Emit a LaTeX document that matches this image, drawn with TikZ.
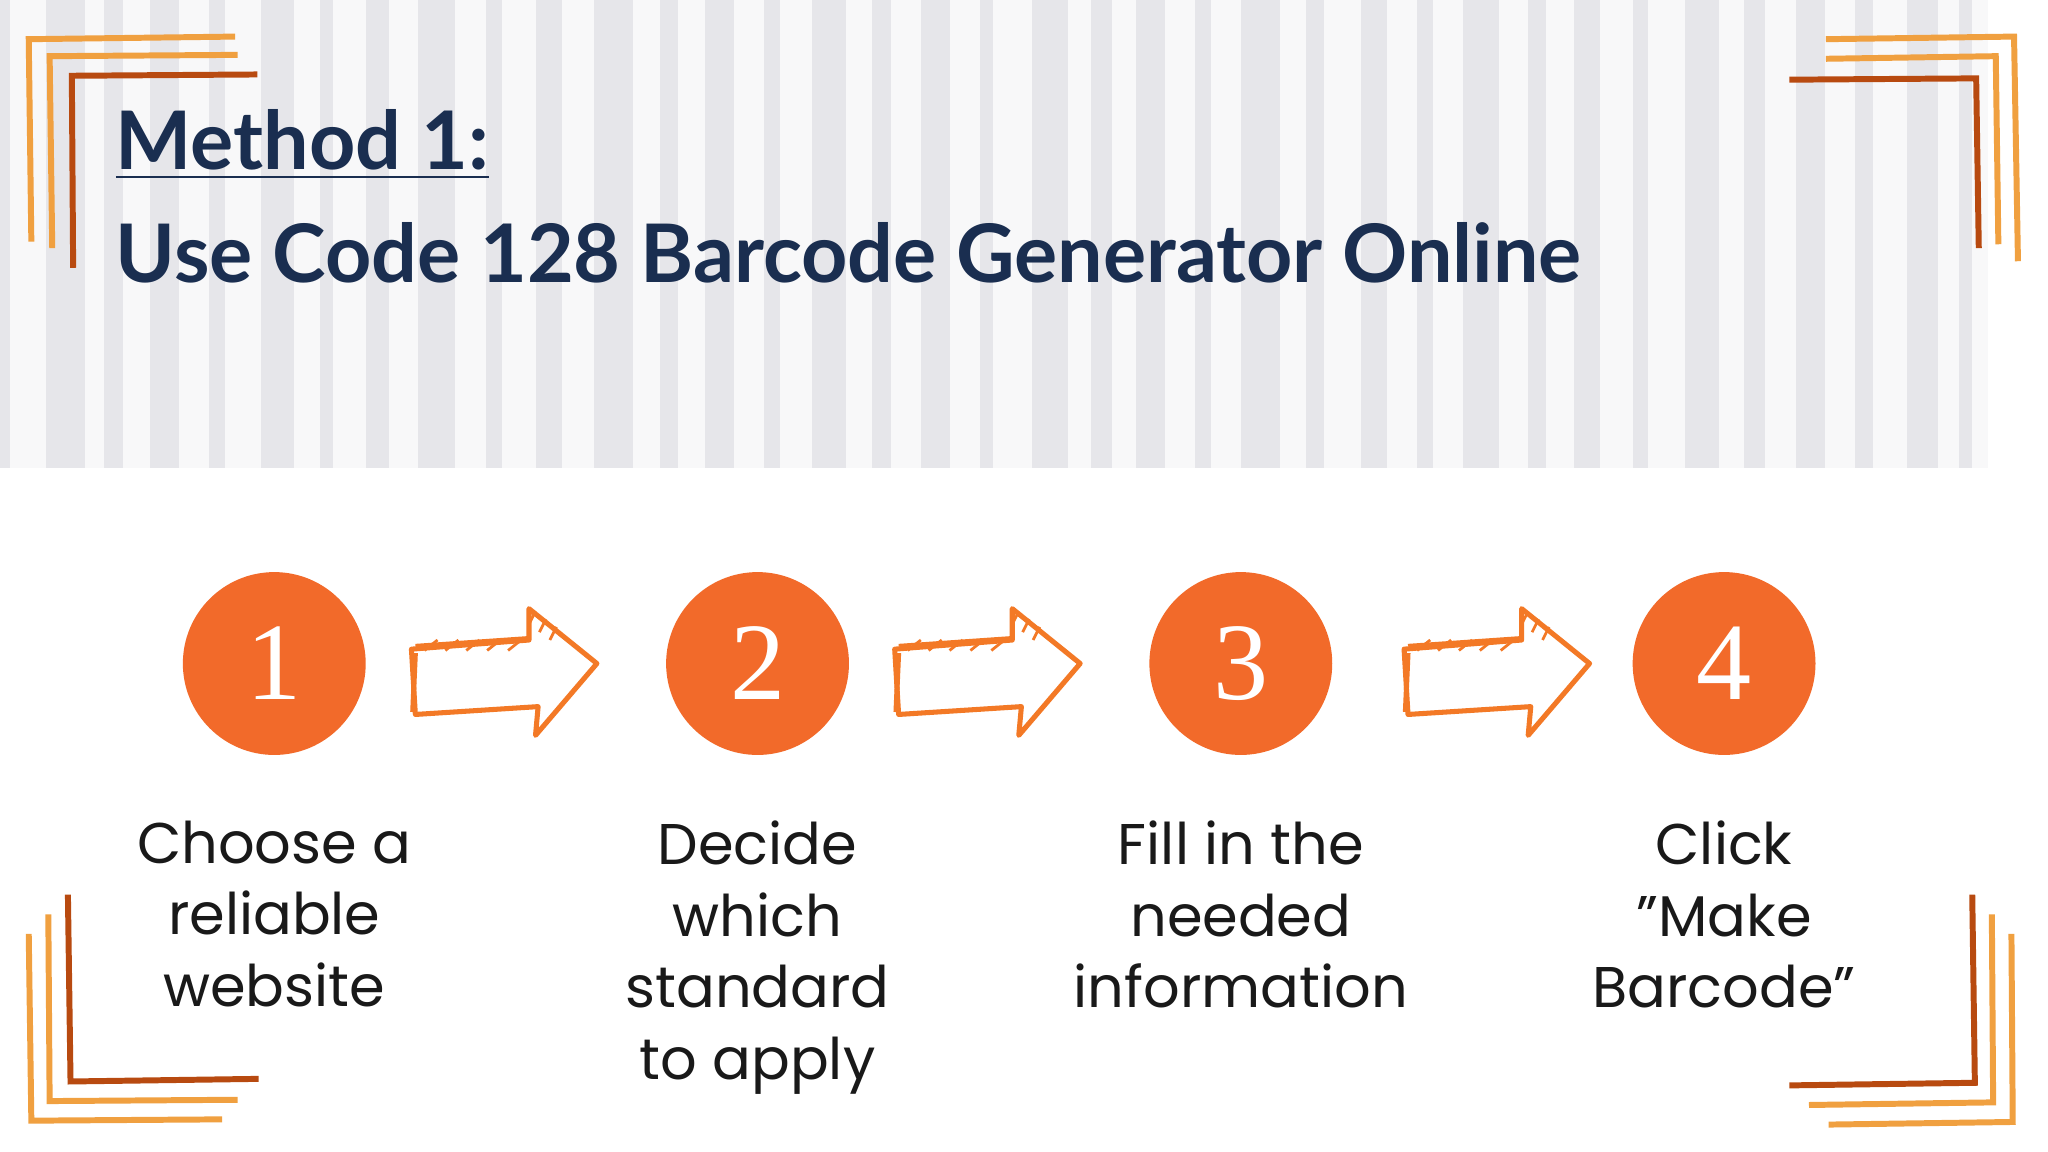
\documentclass[tikz,border=0pt]{standalone}
\usepackage{fontspec}
\setmainfont{Poppins}
\newfontfamily\titlefont{Lato}
\newfontfamily\numfont{Liberation Serif}
\definecolor{navy}{HTML}{1A2E50}
\definecolor{orng}{HTML}{F26A2A}
\definecolor{lor}{HTML}{F0A040}
\definecolor{dor}{HTML}{B84A10}
\definecolor{stripe}{HTML}{E6E6EA}
\definecolor{bandbg}{HTML}{F8F8F9}
\tikzset{
 lo/.style={lor,line width=1.3pt},
 dk/.style={dor,line width=1.3pt},
 num/.style={circle,fill=orng,minimum size=1.4cm,text=white,font=\numfont\fontsize{24}{24}\selectfont},
 lbl/.style={align=center,text=black!90,font=\fontsize{12.5}{15.6}\selectfont,anchor=north},
 harrow/.style={orng!90!yellow,line width=1.1pt,line join=round}
}
\begin{document}
\begin{tikzpicture}[x=0.1mm,y=-0.1mm]
\useasboundingbox (0,0) rectangle (1568,882);
\fill[white] (0,0) rectangle (1568,882);
\fill[bandbg] (0,0) rectangle (1522,358);
\foreach \a/\w in {0/8,35/30,80/14,115/22,160/12,200/25,245/10,280/18,320/28,372/12,410/20,455/30,505/14,540/22,585/12,622/26,668/14,705/22,750/10,790/28,835/16,870/22,915/12,950/30,1000/14,1042/20,1085/12,1120/28,1170/14,1205/20,1250/12,1290/26,1335/16,1375/22,1420/14,1460/24,1500/10}
 \fill[stripe] (\a,0) rectangle ++(\w,358);
% corners
\draw[lo] (180,28)--(22,30)--(24,185);
\draw[lo] (182,42)--(38,43)--(40,190);
\draw[dk] (197,57)--(55,58)--(56,205);
\draw[dk] (1370,61)--(1513,60)--(1515,190);
\draw[lo] (1398,45)--(1528,43)--(1530,187);
\draw[lo] (1398,30)--(1542,28)--(1545,200);
\draw[dk] (52,685)--(54,828)--(198,826);
\draw[lo] (37,700)--(38,843)--(182,842);
\draw[lo] (22,715)--(24,858)--(170,857);
\draw[dk] (1370,831)--(1512,829)--(1510,685);
\draw[lo] (1385,846)--(1526,844)--(1525,700);
\draw[lo] (1400,861)--(1541,859)--(1540,715);
% title
\node[anchor=base west,inner sep=0,text=navy,font=\titlefont\bfseries\fontsize{17.6}{17.6}\selectfont] (t1) at (88,130) {\underline{Method 1:}};
\node[anchor=base west,inner sep=0,text=navy,font=\titlefont\bfseries\fontsize{17.6}{17.6}\selectfont] (t2) at (88,216) {Use Code 128 Barcode Generator Online};
% circles
\foreach \i/\x in {1/210,2/580,3/950,4/1320}
 \node[num] (c\i) at (\x,508) {\i};
\node[lbl] (l1) at (210,616) {Choose a\\reliable\\website};
\node[lbl] (l2) at (580,616) {Decide\\which\\standard\\to apply};
\node[lbl] (l3) at (950,616) {Fill in the\\needed\\information};
\node[lbl] (l4) at (1320,616) {Click\\\symbol{34}Make\\Barcode\symbol{34}};
% arrows
\foreach \d in {0,370,760}{
 \begin{scope}[xshift=\d*0.1mm]
 \draw[harrow] (315,497)--(405,490)--(405,466)--(457,508)--(410,563)--(412,541)--(318,547)--cycle;
 \draw[harrow] (318,500)--(316,545);
 \foreach \k in {0,1,2,3,4}
  \draw[harrow,line width=0.6pt] (325+\k*16,498)--(335+\k*16,490);
 \draw[harrow,line width=0.6pt] (318,494)--(405,488);
 \foreach \k in {0,1,2}
  \draw[harrow,line width=0.6pt] (410+\k*8,468+\k*6)--(405+\k*8,478+\k*6);
 \end{scope}}
\end{tikzpicture}
\end{document}
